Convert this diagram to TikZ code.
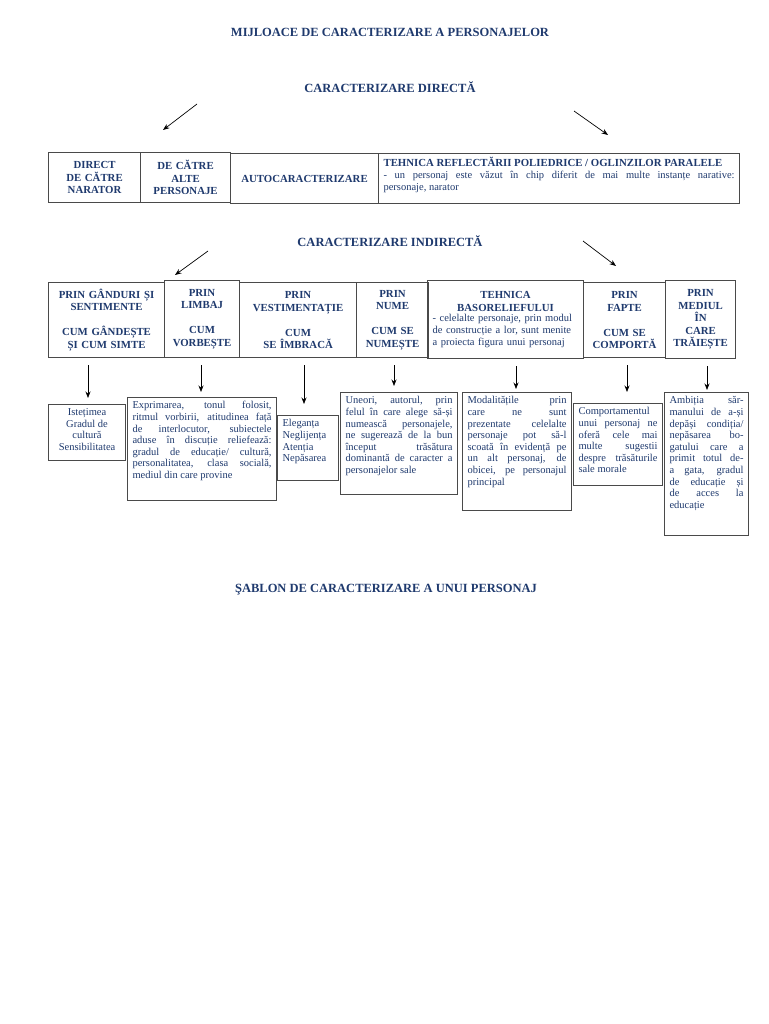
\documentclass[tikz,border=0pt]{standalone}
\usepackage{fontspec}
\setmainfont{Liberation Serif}
\usepackage{tikz}
\usetikzlibrary{arrows.meta, positioning}
\usepackage{xcolor}
\definecolor{ink}{HTML}{1F3A6E}
\definecolor{edge}{HTML}{4A4A4A}
\newcommand{\headfont}{\fontsize{12.5}{15}\selectfont\bfseries}
\newcommand{\catfont}{\fontsize{10.8}{12.5}\selectfont\bfseries}
\newcommand{\notefont}{\fontsize{10.5}{11.6}\selectfont\mdseries}
% word-like spacing: no hyphenation, spaces never shrink
\newcommand{\wordspacing}{\hyphenpenalty=10000 \spaceskip=\fontdimen2\font plus \fontdimen3\font\relax}
\newcommand{\notebox}[3]{\parbox[t][#2][t]{#1}{\sloppy\wordspacing #3}}
\newcommand{\nl}{\linebreak}

\begin{document}
\begin{tikzpicture}[x=1pt, y=-1pt,
            cat/.style 2 args={rectangle, draw=edge, line width=1.1pt, anchor=north west, inner sep=0pt, minimum width=#1, text width=#1, minimum height=#2, align=center, text=ink, font=\catfont},
            note/.style={rectangle, draw=edge, line width=1.1pt, anchor=north west, inner xsep=5pt, inner ysep=4pt, text=ink, font=\notefont},
            head/.style={text=ink, font=\headfont},
            arr/.style={-{Stealth[length=6.5pt, width=5pt]}, line width=0.7pt}]

        \fill[white] (0,0) rectangle (768,1024);
        \useasboundingbox (0,0) rectangle (768,1024);

        % Headings
        \node [head] (title) at (390,32) {MIJLOACE DE CARACTERIZARE A PERSONAJELOR};
        \node [head] (direct) at (390,87) {CARACTERIZARE DIRECTĂ};
        \node [head] (indirect) at (390,241) {CARACTERIZARE INDIRECTĂ};
        \node [head] (sablon) at (386,590) {ŞABLON DE CARACTERIZARE A UNUI PERSONAJ};

        % Direct characterisation
        \node [cat={92pt}{50pt}] (r1) at (48,152) {DIRECT\\DE CĂTRE\\NARATOR};
        \node [cat={90pt}{50pt}] (r2) at (140,152) {DE CĂTRE\\ALTE\\PERSONAJE};
        \node [cat={148pt}{50pt}] (r3) at (230,153) {AUTOCARACTERIZARE};
        \node [note] (r4) at (378,153) {\notebox{351pt}{42pt}{{\catfont TEHNICA REFLECTĂRII POLIEDRICE / OGLINZILOR PARALELE\par}- un personaj este văzut în chip diferit de mai multe instanțe narative:\nl personaje, narator}};

        % Indirect characterisation
        \node [cat={116pt}{75pt}] (g1) at (48,282) {PRIN GÂNDURI ȘI\\SENTIMENTE\\[12.5pt]CUM GÂNDEȘTE\\ȘI CUM SIMTE};
        \node [cat={75pt}{77pt}] (g2) at (164,280) {PRIN\\LIMBAJ\\[12.5pt]CUM\\VORBEȘTE};
        \node [cat={117pt}{75pt}] (g3) at (239,282) {PRIN\\VESTIMENTAȚIE\\[12.5pt]CUM\\SE ÎMBRACĂ};
        \node [cat={72pt}{75pt}] (g4) at (356,282) {PRIN\\NUME\\[12.5pt]CUM SE\\NUMEȘTE};
        \node [cat={156pt}{78pt}] (g5) at (427,280) {TEHNICA\\BASORELIEFULUI\\[-1pt]{\notefont\raggedright\leftskip=5pt\rightskip=0pt plus 1fil - celelalte personaje, prin modul\\de construcție a lor, sunt menite\\a proiecta figura unui personaj\par}};
        \node [cat={82pt}{75pt}] (g6) at (583,282) {PRIN\\FAPTE\\[12.5pt]CUM SE\\COMPORTĂ};
        \node [cat={70pt}{78pt}] (g7) at (665,280) {PRIN\\MEDIUL\\ÎN\\CARE\\TRĂIEȘTE};

        % Details
        \node [note] (d1) at (48,404) {\notebox{67pt}{48pt}{\centering Istețimea\\Gradul de\\cultură\\Sensibilitatea}};
        \node [note] (d2) at (127,397) {\notebox{139pt}{95pt}{Exprimarea, tonul folosit,\nl ritmul vorbirii, atitudinea față\nl de interlocutor, subiectele\nl aduse în discuție reliefează:\nl gradul de educație/ cultură,\nl personalitatea, clasa socială,\nl mediul din care provine}};
        \node [note] (d3) at (277,415) {\notebox{51pt}{57pt}{\raggedright Eleganța\\Neglijența\\Atenția\\Nepăsarea}};
        \node [note] (d4) at (340,392) {\notebox{107pt}{94pt}{Uneori, autorul, prin\nl felul în care alege să-și\nl numească personajele,\nl ne sugerează de la bun\nl început trăsătura\nl dominantă de caracter a\nl personajelor sale}};
        \node [note] (d5) at (462,392) {\notebox{99pt}{110pt}{Modalitățile prin\nl care ne sunt\nl prezentate celelalte\nl personaje pot să-l\nl scoată în evidență pe\nl un alt personaj, de\nl obicei, pe personajul\nl principal}};
        \node [note] (d6) at (573,403) {\notebox{79pt}{74pt}{Comportamentul\nl unui personaj ne\nl oferă cele mai\nl multe sugestii\nl despre trăsăturile\nl sale morale}};
        \node [note] (d7) at (664,392) {\notebox{74pt}{135pt}{Ambiția săr-\nl manului de a-și\nl depăși condiția/\nl nepăsarea bo-\nl gatului care a\nl primit totul de-\nl a gata, gradul\nl de educație și\nl de acces la\nl educație}};

        % Arrows from the headings
        \coordinate (dl) at (197,104);
        \coordinate (dr) at (574,111);
        \coordinate (il) at (208,251);
        \coordinate (ir) at (583,241);
        \draw[arr] (dl) -- (163,130);
        \draw[arr] (dr) -- (608,135);
        \draw[arr] (il) -- (175,275);
        \draw[arr] (ir) -- (616,266);

        % Arrows down to the details
        \foreach \g/\d/\x/\s in {g1/d1/88/6, g2/d2/201/5, g3/d3/304/11, g4/d4/394/6, g5/d5/516/3, g6/d6/627/11, g7/d7/707/2}
            \draw[arr, shorten <=7pt, shorten >=\s pt] (\x,0 |- \g.south) -- (\x,0 |- \d.north);

    \end{tikzpicture}
\end{document}
